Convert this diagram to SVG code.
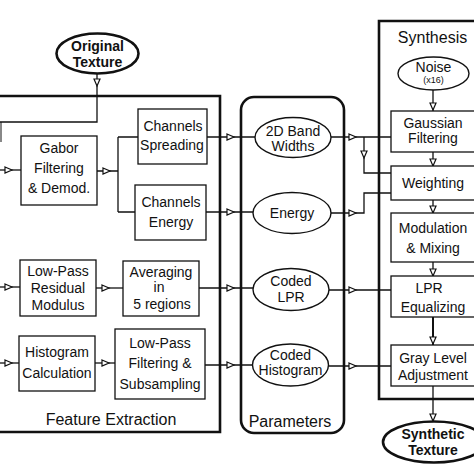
<svg xmlns="http://www.w3.org/2000/svg" width="474" height="474" viewBox="0 0 474 474">
<defs>
<style>
text{font-family:"Liberation Sans",Arial,sans-serif;font-size:14px;fill:#111;text-anchor:middle}
.b{font-weight:bold}
.big{font-size:16px}
.sm{font-size:9px}
.box{fill:#fff;stroke:#111;stroke-width:1.3}
.frame{fill:none;stroke:#111;stroke-width:2.6}
.ell{fill:#fff;stroke:#111;stroke-width:1.4}
.ellb{fill:#fff;stroke:#111;stroke-width:2.6}
.ln{fill:none;stroke:#111;stroke-width:1.3}
.tri{fill:#fff;stroke:#111;stroke-width:1.2}
</style>
<polygon id="tr" class="tri" points="0,-3 7,0 0,3"/>
<polygon id="td" class="tri" points="-3,0 3,0 0,7"/>
</defs>
<rect width="474" height="474" fill="#fff"/>

<g id="frames">
<path class="frame" d="M0,96 H220 V432 H0"/>
<rect class="frame" x="241" y="97" width="103" height="336" rx="13"/>
<path class="frame" d="M480,21 H379 V399 H480"/>
<line x1="1" y1="122" x2="1" y2="142" stroke="#888" stroke-width="2"/>
</g>

<g id="connectors">
<path class="ln" d="M97,74 V122 H0"/>
<path class="ln" d="M0,170 H21"/>
<path class="ln" d="M97,171 H118 M118,137 V212 M118,137 H138 M118,212 H135"/>
<path class="ln" d="M207,137 H255"/>
<path class="ln" d="M206,212 H253"/>
<path class="ln" d="M0,287 H20"/>
<path class="ln" d="M96,288 H123"/>
<path class="ln" d="M199,288 H253"/>
<path class="ln" d="M0,363 H19"/>
<path class="ln" d="M95,363 H115"/>
<path class="ln" d="M205,365 H252"/>
<path class="ln" d="M331,137 H391 M364,137 V173 H391"/>
<path class="ln" d="M331,213 H364 V193 H391"/>
<path class="ln" d="M329,290 H391"/>
<path class="ln" d="M329,366 H391"/>
<path class="ln" d="M433,90 V111 M433,152 V166 M433,200 V213 M433,262 V276 M433,386 V422"/>
<path d="M433,317 V345" stroke="#111" stroke-width="2" fill="none"/>
<use href="#td" x="97" y="79"/>
<use href="#tr" x="5" y="170"/>
<use href="#tr" x="103" y="171"/>
<use href="#tr" x="227" y="137"/>
<use href="#tr" x="227" y="212"/>
<use href="#tr" x="5" y="287"/>
<use href="#tr" x="102" y="288"/>
<use href="#tr" x="227" y="288"/>
<use href="#tr" x="5" y="363"/>
<use href="#tr" x="102" y="363"/>
<use href="#tr" x="227" y="365"/>
<use href="#tr" x="349" y="137"/>
<use href="#td" x="364" y="151"/>
<use href="#tr" x="349" y="213"/>
<use href="#tr" x="349" y="290"/>
<use href="#tr" x="349" y="366"/>
<use href="#td" x="433" y="103"/>
<use href="#td" x="433" y="159"/>
<use href="#td" x="433" y="206"/>
<use href="#td" x="433" y="269"/>
<use href="#td" x="433" y="337"/>
<use href="#td" x="433" y="414"/>
</g>

<g id="original">
<ellipse class="ellb" cx="97.5" cy="53.5" rx="41" ry="20"/>
<text class="b" x="97.5" y="51">Original</text>
<text class="b" x="97.5" y="67">Texture</text>
</g>

<g id="gabor">
<rect class="box" x="21" y="136" width="76" height="69"/>
<text x="59" y="153">Gabor</text>
<text x="59" y="173">Filtering</text>
<text x="59" y="193">&amp; Demod.</text>
</g>
<g id="spreading">
<rect class="box" x="138" y="109" width="69" height="55"/>
<text x="173" y="131">Channels</text>
<text x="172" y="150">Spreading</text>
</g>
<g id="chenergy">
<rect class="box" x="135" y="185" width="71" height="55"/>
<text x="171" y="207">Channels</text>
<text x="171" y="227">Energy</text>
</g>
<g id="lowpassres">
<rect class="box" x="20" y="260" width="76" height="56"/>
<text x="58" y="276">Low-Pass</text>
<text x="58" y="293">Residual</text>
<text x="58" y="310">Modulus</text>
</g>
<g id="averaging">
<rect class="box" x="123" y="261" width="76" height="55"/>
<text x="161" y="277">Averaging</text>
<text x="159" y="292">in</text>
<text x="162" y="309">5 regions</text>
</g>
<g id="histcalc">
<rect class="box" x="19" y="336" width="76" height="55"/>
<text x="57" y="357">Histogram</text>
<text x="57" y="378">Calculation</text>
</g>
<g id="lpf">
<rect class="box" x="115" y="329" width="90" height="70"/>
<text x="160" y="348">Low-Pass</text>
<text x="160" y="368">Filtering &amp;</text>
<text x="160" y="389">Subsampling</text>
</g>
<text class="big" x="111" y="425">Feature Extraction</text>

<g id="bandwidths">
<ellipse class="ell" cx="293" cy="137.5" rx="38" ry="20"/>
<text x="293" y="136">2D Band</text>
<text x="293" y="151">Widths</text>
</g>
<g id="energy">
<ellipse class="ell" cx="292" cy="213" rx="39" ry="20.5"/>
<text x="292" y="218">Energy</text>
</g>
<g id="codedlpr">
<ellipse class="ell" cx="291" cy="289.5" rx="38" ry="21"/>
<text x="291" y="286">Coded</text>
<text x="291" y="302">LPR</text>
</g>
<g id="codedhist">
<ellipse class="ell" cx="290.5" cy="365" rx="38" ry="21"/>
<text x="290.5" y="360">Coded</text>
<text x="290.5" y="375">Histogram</text>
</g>
<text class="big" x="290" y="427">Parameters</text>

<text class="big" x="432.5" y="43">Synthesis</text>
<g id="noise">
<ellipse class="ell" cx="433.5" cy="73.5" rx="35.5" ry="16.5"/>
<text x="433.5" y="72">Noise</text>
<text class="sm" x="433.5" y="83">(x16)</text>
</g>
<g id="gaussian">
<rect class="box" x="391" y="111" width="90" height="41"/>
<text x="433" y="128">Gaussian</text>
<text x="433" y="143">Filtering</text>
</g>
<g id="weighting">
<rect class="box" x="391" y="166" width="90" height="34"/>
<text x="433" y="188">Weighting</text>
</g>
<g id="modulation">
<rect class="box" x="391" y="213" width="90" height="49"/>
<text x="433" y="233">Modulation</text>
<text x="433" y="253">&amp; Mixing</text>
</g>
<g id="lprequal">
<rect class="box" x="391" y="276" width="90" height="41"/>
<text x="429" y="293">LPR</text>
<text x="433" y="312">Equalizing</text>
</g>
<g id="graylevel">
<rect class="box" x="391" y="345" width="90" height="41"/>
<text x="433" y="363">Gray Level</text>
<text x="433" y="380">Adjustment</text>
</g>
<g id="synthetic">
<ellipse class="ellb" cx="434" cy="442" rx="51" ry="20.5"/>
<text class="b" x="433" y="439">Synthetic</text>
<text class="b" x="433" y="455">Texture</text>
</g>
</svg>
